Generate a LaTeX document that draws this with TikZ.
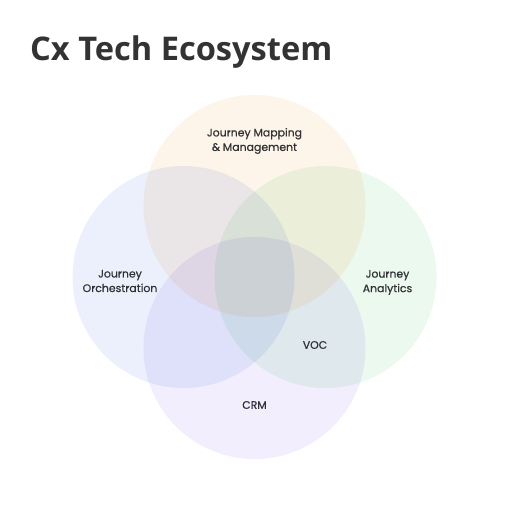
\documentclass[tikz,border=0pt]{standalone}
\usepackage{fontspec}
\setmainfont{Open Sans}
\newfontfamily\vennfont[FakeBold=0.6]{Poppins}
\usepackage{tikz}
\usetikzlibrary{shapes,calc}
\definecolor{titlegray}{HTML}{333333}
\definecolor{textgray}{HTML}{303134}
\definecolor{mapfill}{HTML}{FEF5EA}
\definecolor{orchfill}{HTML}{EBF0FC}
\definecolor{analfill}{HTML}{ECF9EE}
\definecolor{crmfill}{HTML}{F2EEFD}
\tikzstyle{venn} = [circle, minimum size=222pt, inner sep=0pt]
\tikzstyle{venntext} = [text=textgray, font=\vennfont\fontsize{10.9}{14.5}\selectfont, align=center, inner sep=0pt]
\tikzstyle{heading} = [text=titlegray, font=\bfseries\fontsize{32.6}{38}\selectfont, anchor=base west, inner sep=0pt]

\begin{document}
\begin{tikzpicture}[x=1pt, y=1pt, node distance=71pt]
        \useasboundingbox[fill=white] (0,0) rectangle (510,510);
        \node[heading] (title) at (30,449) {Cx Tech Ecosystem};
        \coordinate (core) at (254.5,233);
        \begin{scope}[blend mode=multiply]
        \node[venn, fill=mapfill, above of=core] (mapping) {};
        \node[venn, fill=orchfill, left of=core] (orchestration) {};
        \node[venn, fill=analfill, right of=core] (analytics) {};
        \node[venn, fill=crmfill, below of=core] (crm) {};
        \end{scope}
        \node[venntext, above of=mapping, node distance=65pt] (maptext) {Journey Mapping\\\& Management};
        \node[venntext, left of=orchestration, node distance=63.5pt, yshift=-4pt] (orchtext) {Journey\\Orchestration};
        \node[venntext, right of=analytics, node distance=62pt, yshift=-5.5pt] (analtext) {Journey\\Analytics};
        \node[venntext, right of=crm, node distance=60.5pt, yshift=3pt] (voctext) {VOC};
        \node[venntext, below of=crm, node distance=57pt] (crmtext) {CRM};
    \end{tikzpicture}
\end{document}
